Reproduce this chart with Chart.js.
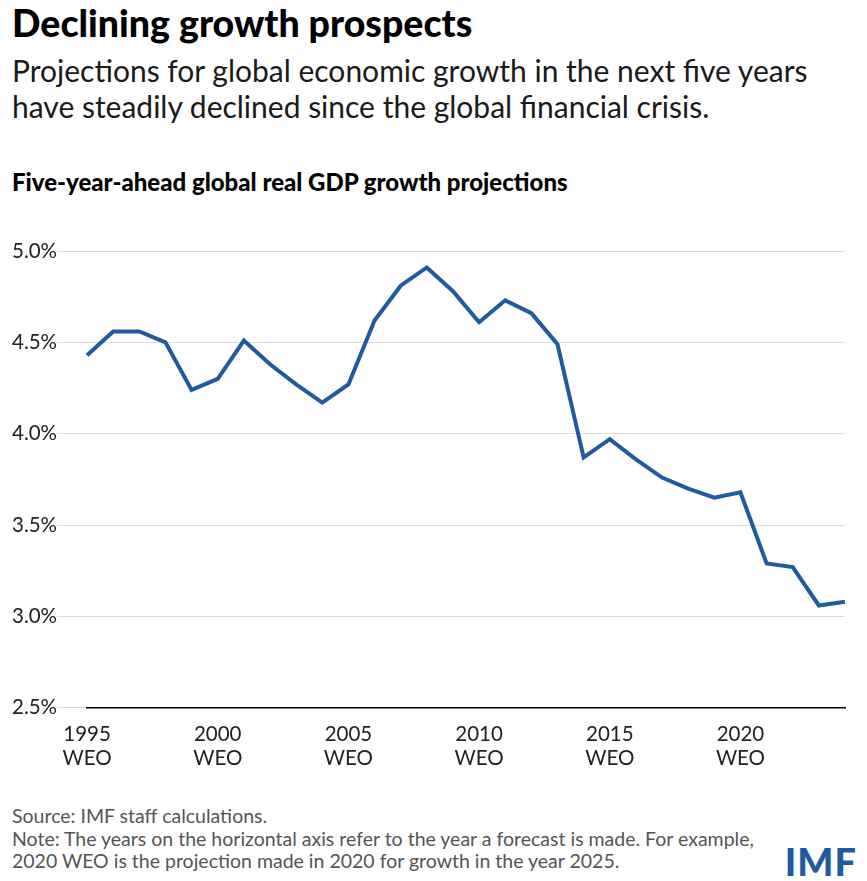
<!DOCTYPE html>
<html>
<head>
<meta charset="utf-8">
<script src="https://cdn.jsdelivr.net/npm/chart.js@4.4.1/dist/chart.umd.min.js"></script>
<style>
  body { margin: 0; background: #fff; font-family: Lato, 'Noto Sans', sans-serif; color: #000; }
  #wrap { position: relative; width: 867px; height: 881px; }
  h1 { position: absolute; left: 12px; top: 0px; margin: 0; font-size: 37.5px; font-weight: 900; }
  .sub { position: absolute; left: 12px; top: 52px; margin: 0; font-size: 30px; line-height: 36px; color: #1a1a1a; }
  .ctitle { position: absolute; left: 12px; top: 167px; margin: 0; font-size: 24px; font-weight: 900; }
  #box { position: absolute; left: 0; top: 232px; width: 858px; height: 545px; }
  .foot { position: absolute; left: 12px; top: 805px; font-size: 19.5px; line-height: 22.5px; color: #555; }
  .logo { position: absolute; right: 10px; top: 838px; font-size: 38px; font-weight: 900; color: #1f5b9e; letter-spacing: 1px; }
</style>
</head>
<body>
<div id="wrap">
  <h1>Declining growth prospects</h1>
  <p class="sub">Projections for global economic growth in the next five years<br>have steadily declined since the global financial crisis.</p>
  <p class="ctitle">Five-year-ahead global real GDP growth projections</p>
  <div id="box"><canvas id="c"></canvas></div>
  <div class="foot">Source: IMF staff calculations.<br>Note: The years on the horizontal axis refer to the year a forecast is made. For example,<br>2020 WEO is the projection made in 2020 for growth in the year 2025.</div>
  <div class="logo">IMF</div>
</div>
<script>
'use strict';

// ── Data ──────────────────────────────────────────────────────
const years = [1995, 1996, 1997, 1998, 1999, 2000, 2001, 2002, 2003, 2004,
               2005, 2006, 2007, 2008, 2009, 2010, 2011, 2012, 2013, 2014,
               2015, 2016, 2017, 2018, 2019, 2020, 2021, 2022, 2023, 2024];
const growth = [4.43, 4.56, 4.56, 4.50, 4.24, 4.30, 4.51, 4.38, 4.27, 4.17,
                4.27, 4.62, 4.81, 4.91, 4.78, 4.61, 4.73, 4.66, 4.49, 3.87,
                3.97, 3.86, 3.76, 3.70, 3.65, 3.68, 3.29, 3.27, 3.06, 3.08];
const yTicks = [2.5, 3.0, 3.5, 4.0, 4.5, 5.0];

Chart.defaults.font.family = "Lato, 'Noto Sans', sans-serif";
Chart.defaults.font.size   = 20.5;
Chart.defaults.color       = '#222';

new Chart(document.getElementById('c'), {
  type: 'line',
  data: {
    labels: years.map(String),
    datasets: [{
      data: growth,
      borderColor: '#1f5b9e',
      borderWidth: 4,
      pointRadius: 0,
      tension: 0,
    }],
  },
  options: {
    responsive: true,
    maintainAspectRatio: false,
    animation: false,
    layout: { padding: { top: 19, right: 13, left: 12 } },
    plugins: { legend: { display: false }, tooltip: { enabled: false } },
    scales: {
      x: {
        offset: false,
        grid: { display: false },
        border: { color: '#000', width: 1.5 },
        ticks: {
          autoSkip: false,
          maxRotation: 0,
          padding: 6,
          callback(v, i) {
            const y = years[i];
            return y % 5 === 0 ? [String(y), 'WEO'] : '';
          },
        },
      },
      y: {
        min: 2.5,
        max: 5.0,
        afterBuildTicks(axis) { axis.ticks = yTicks.map(v => ({ value: v })); },
        grid: { color: '#dcdcdc', lineWidth: 1, tickLength: 30 },
        border: { display: false },
        ticks: {
          crossAlign: 'far',
          padding: 0,
          callback: v => v.toFixed(1) + '%',
        },
      },
    },
  },
});
</script>
</body>
</html>
